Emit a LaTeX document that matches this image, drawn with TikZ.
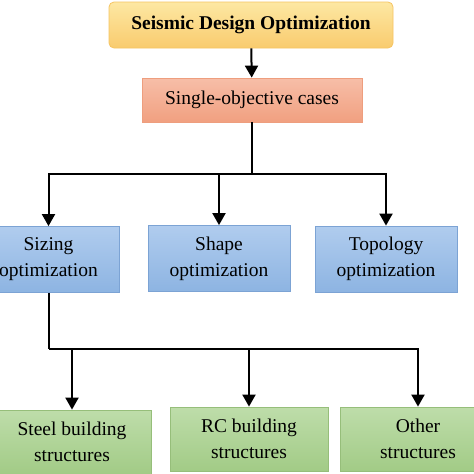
\documentclass[tikz,border=0pt]{standalone}
\usepackage{fontspec}
\setmainfont{Liberation Serif}
\usepackage{tikz}
\usetikzlibrary{arrows.meta,shapes,positioning}
\usepackage{xcolor}
\definecolor{sdyellow}{RGB}{253,232,163}
\definecolor{sdyellow2}{RGB}{249,203,110}
\definecolor{sdyellowline}{RGB}{246,196,98}
\definecolor{sdsalmon}{RGB}{247,190,168}
\definecolor{sdsalmon2}{RGB}{241,160,128}
\definecolor{sdsalmonline}{RGB}{238,158,126}
\definecolor{sdblue}{RGB}{176,204,238}
\definecolor{sdblue2}{RGB}{141,180,226}
\definecolor{sdblueline}{RGB}{124,163,212}
\definecolor{sdgreen}{RGB}{190,221,170}
\definecolor{sdgreen2}{RGB}{162,203,134}
\definecolor{sdgreenline}{RGB}{150,190,122}
\tikzstyle{title} = [rectangle, rounded corners=5pt, minimum width=284pt, minimum height=46pt, text centered, draw=sdyellowline, top color=sdyellow, bottom color=sdyellow2, thick, font=\fontsize{19.5}{26}\selectfont\bfseries]
\tikzstyle{cases} = [rectangle, minimum width=220pt, minimum height=44pt, text centered, draw=sdsalmonline, top color=sdsalmon, bottom color=sdsalmon2, thick, font=\fontsize{19.5}{26}\selectfont]
\tikzstyle{method} = [rectangle, minimum width=142pt, minimum height=66pt, align=center, draw=sdblueline, top color=sdblue, bottom color=sdblue2, thick, font=\fontsize{19.5}{26}\selectfont]
\tikzstyle{structure} = [rectangle, minimum width=158pt, minimum height=64pt, align=center, draw=sdgreenline, top color=sdgreen, bottom color=sdgreen2, thick, font=\fontsize{19.5}{26}\selectfont]
\tikzstyle{line} = [line width=2pt, color=black]
\tikzstyle{arrow} = [line width=2pt, -{Triangle[width=13pt,length=12pt]}, color=black]

\begin{document}
\begin{tikzpicture}[x=1pt,y=-1pt]
\clip (0,0) rectangle (474,474);
\fill[white] (0,0) rectangle (474,474);
\node[title] (sdo) at (251,25) {Seismic Design Optimization};
\node[cases] (single) at (252,100) {Single-objective cases};
\node[method] (sizing) at (48.5,259.5) {Sizing\\optimization};
\node[method] (shape) at (219,258.5) {Shape\\optimization};
\node[method] (topo) at (386,259) {Topology\\optimization};
\node[structure] (steel) at (72,442) {Steel building\\structures};
\node[structure] (rc) at (249,439) {RC building\\structures};
\node[structure, minimum width=156pt] (other) at (418,439) {Other\\structures};
\coordinate (split1) at (252,174);
\coordinate (split2) at (48.5,349);

\draw[arrow] (sdo) -- (single);
\draw[line] (single) -- (split1);
\draw[arrow] (split1) -| (sizing.north);
\draw[arrow] (split1) -| (shape.north);
\draw[arrow] (split1) -| (topo.north);
\draw[line] (sizing) -- (split2);
\draw[arrow] (split2) -| (steel.north);
\draw[arrow] (split2) -| (rc.north);
\draw[arrow] (split2) -| (other.north);
\end{tikzpicture}
\end{document}
